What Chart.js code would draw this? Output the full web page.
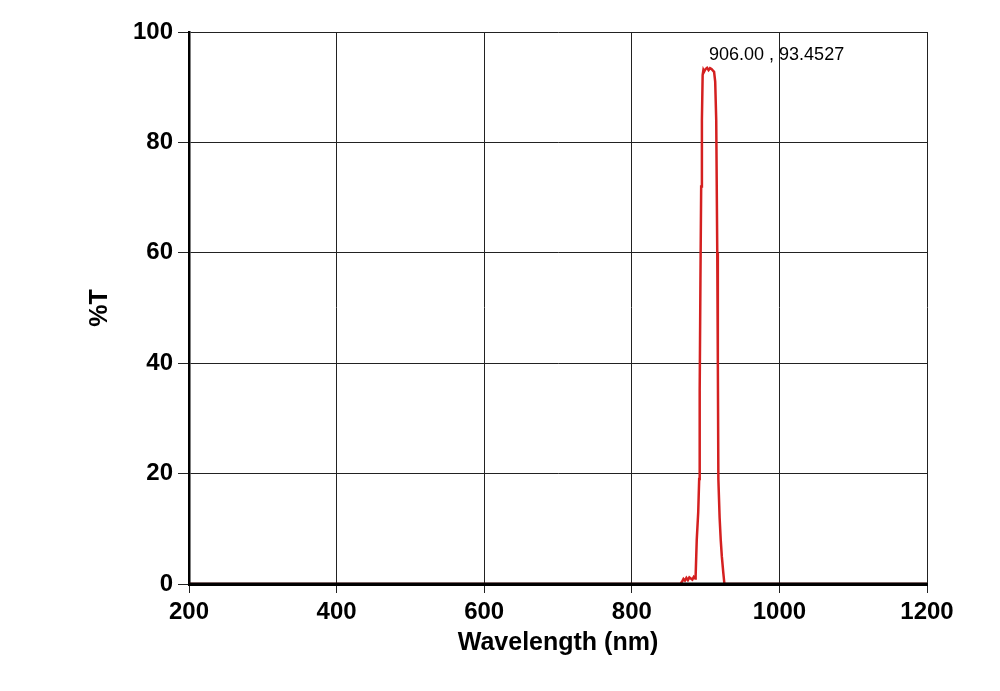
<!DOCTYPE html>
<html>
<head>
<meta charset="utf-8">
<script src="https://cdn.jsdelivr.net/npm/chart.js@4"></script>
<style>
html,body{margin:0;padding:0;background:#fff;}
#wrap{width:1000px;height:691px;}
</style>
</head>
<body>
<div id="wrap"><canvas id="c" width="1000" height="691"></canvas></div>
<script>
// Data
const wavelength = [200, 400, 600, 800, 860, 866, 868, 870, 872, 874, 876, 878, 880, 882, 884, 886, 886.5, 888, 890, 891.3, 892, 893, 894, 895, 896, 897, 898, 900, 902, 904, 906, 908, 910, 911.5, 913, 914.4, 915.8, 916.6, 917.3, 919, 920.5, 922, 924, 925.5, 930, 1000, 1100, 1200];
const transmission = [0, 0, 0, 0, 0, 0, 0.4, 0.9, 0.6, 1.1, 0.7, 1.2, 1.0, 0.8, 1.3, 1.0, 1.5, 8, 13, 19, 35, 55, 72, 84, 92.2, 93.1, 92.8, 93.3, 93.5, 93.1, 93.45, 93.3, 93.0, 92.8, 91, 84, 60, 40, 19, 12, 8, 5, 2, 0, 0, 0, 0, 0];
const xTicks = [200, 400, 600, 800, 1000, 1200];
const yTicks = [0, 20, 40, 60, 80, 100];
const annotation = { x: 906.00, y: 93.4527, text: '906.00 , 93.4527' };

const points = wavelength.map((w, i) => ({ x: w, y: transmission[i] }));

const annotPlugin = {
  id: 'annot',
  afterDatasetsDraw(chart) {
    const { ctx, scales, chartArea } = chart;
    // redraw the bottom axis line over the trace, as in the reference
    const y0 = scales.y.getPixelForValue(0);
    ctx.save();
    ctx.strokeStyle = '#000';
    ctx.lineWidth = 3;
    ctx.beginPath();
    ctx.moveTo(chartArea.left, y0);
    ctx.lineTo(chartArea.right, y0);
    ctx.stroke();
    const px = scales.x.getPixelForValue(annotation.x);
    const py = scales.y.getPixelForValue(annotation.y);
    ctx.fillStyle = '#000';
    ctx.font = '18px "Liberation Sans", Arial, sans-serif';
    ctx.textAlign = 'left';
    ctx.textBaseline = 'alphabetic';
    ctx.fillText(annotation.text, px - 1, py - 8);
    ctx.restore();
  }
};

new Chart(document.getElementById('c'), {
  type: 'line',
  data: {
    datasets: [{
      data: points,
      borderColor: '#d42020',
      borderWidth: 2.5,
      pointRadius: 0,
      tension: 0,
      fill: false
    }]
  },
  options: {
    responsive: false,
    animation: false,
    events: [],
    layout: { padding: { top: 32, right: 73, left: 0, bottom: 0 } },
    plugins: { legend: { display: false }, tooltip: { enabled: false } },
    scales: {
      x: {
        type: 'linear',
        min: 200, max: 1200,
        afterFit(s) { s.height = 107; },
        afterBuildTicks(s) { s.ticks = xTicks.map(v => ({ value: v })); },
        ticks: {
          color: '#000',
          font: { family: '"Liberation Sans", Arial, sans-serif', size: 24, weight: 'bold' },
          padding: 5,
          maxRotation: 0,
          autoSkip: false,
          callback: (v) => String(v)
        },
        grid: { color: '#222', lineWidth: 1, tickLength: 9, drawTicks: true },
        border: { color: '#000', width: 3 },
        title: {
          display: true,
          text: 'Wavelength (nm)',
          color: '#000',
          font: { family: '"Liberation Sans", Arial, sans-serif', size: 25, weight: 'bold' },
          padding: { top: 0, bottom: 33 }
        }
      },
      y: {
        min: 0, max: 100,
        afterFit(s) { s.width = 189; },
        afterBuildTicks(s) { s.ticks = yTicks.map(v => ({ value: v })); },
        ticks: {
          color: '#000',
          font: { family: '"Liberation Sans", Arial, sans-serif', size: 24, weight: 'bold' },
          padding: 5,
          callback: (v) => String(v)
        },
        grid: { color: '#222', lineWidth: 1, tickLength: 11, drawTicks: true },
        border: { color: '#000', width: 2.5 },
        title: {
          display: true,
          text: '%T',
          color: '#000',
          font: { family: '"Liberation Sans", Arial, sans-serif', size: 25, weight: 'bold' },
          padding: { top: 85, bottom: 0 }
        }
      }
    }
  },
  plugins: [annotPlugin]
});
</script>
</body>
</html>
